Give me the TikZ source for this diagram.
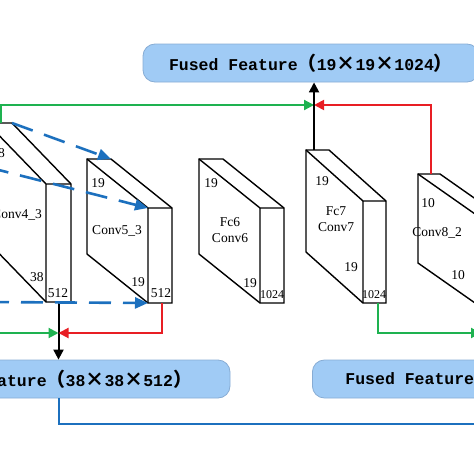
\documentclass[tikz,border=0pt]{standalone}
\usepackage{fontspec}
\setmainfont{Liberation Serif}
\newfontfamily\boxfont{Liberation Mono}
\newfontfamily\cjk{Noto Sans CJK SC}
\usetikzlibrary{arrows.meta,calc}
\definecolor{fusedfill}{RGB}{160,203,245}
\definecolor{fusededge}{RGB}{135,172,212}
\definecolor{linkgreen}{RGB}{30,178,80}
\definecolor{linkred}{RGB}{232,30,36}
\definecolor{linkblue}{RGB}{28,112,190}
\newcommand{\fparl}{{\cjk\fontsize{19}{19}\selectfont （}}
\newcommand{\fparr}{{\cjk\fontsize{19}{19}\selectfont ）}}
\newcommand{\fx}{{\cjk\fontsize{19}{19}\selectfont ×}}
\newcommand{\slabblock}[7]{%
  \coordinate (#1-tl) at (#2,#3);%
  \coordinate (#1-tr) at ($(#1-tl)+(#4,0)$);%
  \coordinate (#1-ftl) at ($(#1-tl)+(#5,#6)$);%
  \coordinate (#1-ftr) at ($(#1-tr)+(#5,#6)$);%
  \coordinate (#1-fbl) at ($(#1-ftl)+(0,#7)$);%
  \coordinate (#1-fbr) at ($(#1-ftr)+(0,#7)$);%
  \coordinate (#1-bl) at ($(#1-tl)+(0,#7)$);%
  \fill[white] (#1-tl) -- (#1-tr) -- (#1-ftr) -- (#1-fbr) -- (#1-fbl) -- (#1-bl) -- cycle;%
  \draw[slabline] (#1-tl) -- (#1-tr) -- (#1-ftr) -- (#1-fbr) -- (#1-fbl) -- (#1-bl) -- cycle;%
  \draw[slabline] (#1-tl) -- (#1-ftl) -- (#1-ftr) (#1-ftl) -- (#1-fbl);%
}

\begin{document}
\begin{tikzpicture}[x=1pt,y=-1pt,
  slabline/.style={line width=1.4pt,line join=miter},
  blocklabel/.style={inner sep=0pt,font=\fontsize{13.5}{16}\selectfont,align=center},
  depthlabel/.style={inner sep=0pt,font=\fontsize{12}{14}\selectfont},
  fusedbox/.style={rounded corners=12pt,fill=fusedfill,draw=fusededge,line width=0.8pt,
    minimum height=38pt,inner sep=0pt,font=\boxfont\bfseries\fontsize{16.5}{18}\selectfont},
  greenlink/.style={linkgreen,line width=2pt,-{Triangle[length=10pt,width=10pt]}},
  redlink/.style={linkred,line width=2pt,-{Triangle[length=10pt,width=10pt]}},
  blacklink/.style={black,line width=2pt,-{Triangle[length=10pt,width=10pt]}},
  bluelink/.style={linkblue,line width=2pt},
  dashlink/.style={linkblue,line width=2.6pt,dash pattern=on 22pt off 12pt,
    -{Triangle[length=13pt,width=11pt]}}]
  \useasboundingbox (0,0) rectangle (474,474);
  \clip (0,0) rectangle (474,474);

  \slabblock{c4}{-13}{123}{25}{59}{61}{118}
  \slabblock{c5}{87}{159}{24}{61}{49}{95}
  \slabblock{c6}{199}{159}{24}{61}{49}{95}
  \slabblock{c7}{306}{150}{23}{57}{51}{102}
  \slabblock{c8}{418}{174}{22}{57}{40}{89}

  \node[blocklabel] (c4-n1) at (-2,153) {38};
  \node[blocklabel] (c4-name) at (17,215) {Conv4\_3};
  \node[blocklabel] (c4-n2) at (37,277) {38};
  \node[blocklabel] (c4-d) at (58,293) {512};
  \node[blocklabel] (c5-n1) at (98,183) {19};
  \node[blocklabel] (c5-name) at (117,231) {Conv5\_3};
  \node[blocklabel] (c5-n2) at (138,282) {19};
  \node[blocklabel] (c5-d) at (161,293) {512};
  \node[blocklabel] (c6-n1) at (211,183) {19};
  \node[blocklabel] (c6-name) at (230,230) {Fc6\\Conv6};
  \node[blocklabel] (c6-n2) at (250,283) {19};
  \node[depthlabel] (c6-d) at (272,295) {1024};
  \node[blocklabel] (c7-n1) at (322,181) {19};
  \node[blocklabel] (c7-name) at (336,219) {Fc7\\Conv7};
  \node[blocklabel] (c7-n2) at (351,267) {19};
  \node[depthlabel] (c7-d) at (374,295) {1024};
  \node[blocklabel] (c8-n1) at (428,203) {10};
  \node[blocklabel] (c8-name) at (437,233) {Conv8\_2};
  \node[blocklabel] (c8-n2) at (458,275) {10};

  \node[fusedbox,minimum width=336pt] (topfused) at (311,63)
    {Fused Feature\fparl19\fx19\fx1024\fparr};
  \node[fusedbox,minimum width=350pt] (leftfused) at (55,379)
    {Fused Feature\fparl38\fx38\fx512\fparr};
  \node[fusedbox,anchor=west,inner xsep=33pt] (rightfused) at (312,379)
    {Fused Feature};

  \coordinate (c4-up) at ($(c4-tl)!0.55!(c4-tr)$);
  \coordinate (c7-up) at ($(c7-tl)!0.35!(c7-tr)$);
  \coordinate (c8-up) at ($(c8-tl)!0.6!(c8-tr)$);
  \coordinate (topjoin) at ($(c7-up)+(0,-45)$);
  \coordinate (c4-down) at ($(c4-fbl)!0.5!(c4-fbr)$);
  \coordinate (c5-down) at ($(c5-fbl)!0.6!(c5-fbr)$);
  \coordinate (c7-down) at ($(c7-fbl)!0.65!(c7-fbr)$);
  \coordinate (botjoin) at ($(c4-down)+(0,31)$);
  \coordinate (gin) at (-20,333);
  \coordinate (gout) at (481,333);
  \coordinate (bout) at (480,424);
  \coordinate (d2s) at (-13,167);
  \coordinate (d3s) at (-13,302);

  \draw[greenlink] (c4-up) |- (topjoin);
  \draw[redlink] (c8-up) |- (topjoin);
  \draw[blacklink] (c7-up) -- (c7-up |- topfused.south);
  \draw[blacklink] (c4-down) -- (c4-down |- leftfused.north);
  \draw[greenlink] (gin) -- (botjoin);
  \draw[redlink] (c5-down) |- (botjoin);
  \draw[greenlink] (c7-down) |- (gout);
  \draw[bluelink] (leftfused.south -| c4-down) |- (bout);

  \draw[dashlink] (c4-tr) -- (c5-tr);
  \draw[dashlink] (d2s) -- (c5-ftl);
  \draw[dashlink] (d3s) -- (c5-fbl);
\end{tikzpicture}
\end{document}
